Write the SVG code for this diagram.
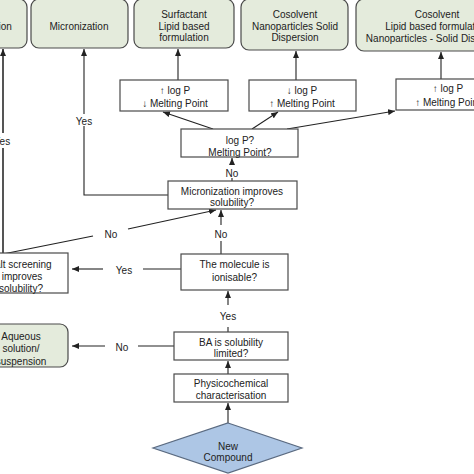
<svg xmlns="http://www.w3.org/2000/svg" width="474" height="474" viewBox="0 0 474 474">
<defs>
<marker id="ah" markerUnits="userSpaceOnUse" markerWidth="8" markerHeight="6" refX="7" refY="3" orient="auto">
<path d="M0,0 L7,3 L0,6 z" fill="#222"/>
</marker>
<style>
text{font-family:"Liberation Sans","DejaVu Sans",Arial,sans-serif;font-size:10px;fill:#222;text-anchor:middle}
.g{fill:#e4ebdc;stroke:#4a4a4a;stroke-width:1.2}
.w{fill:#fff;stroke:#4a4a4a;stroke-width:1.2}
.d{fill:#adc6e5;stroke:#5a6a80;stroke-width:1.2}
.c{fill:none;stroke:#222;stroke-width:1.1}
.a{marker-end:url(#ah)}
</style>
</defs>
<rect width="474" height="474" fill="#fff"/>
<g id="connectors">
<line class="c a" x1="228" y1="423" x2="228" y2="403"/>
<line class="c a" x1="228" y1="374" x2="228" y2="361"/>
<line class="c" x1="228" y1="332" x2="228" y2="327"/>
<line class="c a" x1="228" y1="305" x2="228" y2="291"/>
<line class="c" x1="174" y1="346" x2="138" y2="346"/>
<line class="c a" x1="105" y1="346" x2="72" y2="346"/>
<line class="c" x1="181" y1="269" x2="143" y2="269"/>
<line class="c a" x1="103" y1="269" x2="72" y2="269"/>
<line class="c" x1="221" y1="254" x2="221" y2="241"/>
<line class="c a" x1="221" y1="225" x2="221" y2="210"/>
<line class="c" x1="3" y1="254" x2="93" y2="236"/>
<line class="c a" x1="128" y1="229" x2="216" y2="210"/>
<line class="c" x1="3" y1="253" x2="3" y2="148" style="stroke:#555;stroke-width:2"/>
<line class="c a" x1="3" y1="133" x2="3" y2="49" style="stroke:#555;stroke-width:2"/>
<polyline class="c" points="168,195 84,195 84,126"/>
<line class="c a" x1="84" y1="114" x2="84" y2="49"/>
<line class="c" x1="232" y1="181" x2="232" y2="178"/>
<line class="c a" x1="232" y1="165" x2="232" y2="158"/>
<line class="c a" x1="213" y1="129" x2="163" y2="112"/>
<line class="c a" x1="252" y1="129" x2="278" y2="112"/>
<line class="c a" x1="287" y1="129" x2="395" y2="111"/>
<line class="c a" x1="178" y1="80" x2="178" y2="49"/>
<line class="c a" x1="296" y1="80" x2="296" y2="51"/>
<line class="c a" x1="441" y1="79" x2="441" y2="52"/>
<text x="228" y="319.5">Yes</text>
<text x="122" y="350.5">No</text>
<text x="124" y="273.5">Yes</text>
<text x="221" y="237.5">No</text>
<text x="111" y="237.5">No</text>
<text x="2" y="144.5">Yes</text>
<text x="84" y="124.5">Yes</text>
<text x="232" y="176.5">No</text>
</g>
<g id="salt-formation">
<rect class="g" x="-70" y="-1" width="97" height="49" rx="8"/>
<text x="-19" y="29.5">Salt formation</text>
</g>
<g id="micronization">
<rect class="g" x="31" y="-1" width="97" height="49" rx="8"/>
<text x="79" y="29.5">Micronization</text>
</g>
<g id="surfactant">
<rect class="g" x="134" y="-1" width="100" height="49" rx="8"/>
<text x="184" y="17.5">Surfactant</text>
<text x="184" y="29.5">Lipid based</text>
<text x="184" y="41">formulation</text>
</g>
<g id="cosolvent">
<rect class="g" x="241" y="-1" width="107" height="51" rx="8"/>
<text x="295" y="17.5">Cosolvent</text>
<text x="295" y="29.5">Nanoparticles Solid</text>
<text x="295" y="41">Dispersion</text>
</g>
<g id="cosolvent-lipid">
<rect class="g" x="356" y="-1" width="170" height="52" rx="8"/>
<text x="437" y="17.5">Cosolvent</text>
<text x="437" y="29.5">Lipid based formulation</text>
<text x="437" y="41.5">Nanoparticles - Solid Dispersion</text>
</g>
<g id="up-logp-down-mp">
<rect class="w" x="120" y="80" width="108" height="31"/>
<text x="175" y="93.5">↑ log P</text>
<text x="175" y="106.5">↓ Melting Point</text>
</g>
<g id="down-logp-up-mp">
<rect class="w" x="249" y="80" width="107" height="31"/>
<text x="302" y="93.5">↓ log P</text>
<text x="302" y="106.5">↑ Melting Point</text>
</g>
<g id="up-logp-up-mp">
<rect class="w" x="396" y="79" width="110" height="31"/>
<text x="448" y="91.5">↑ log P</text>
<text x="448" y="105.5">↑ Melting Point</text>
</g>
<g id="logp-question">
<rect class="w" x="181" y="129" width="117" height="28"/>
<text x="240" y="143.5">log P?</text>
<text x="240" y="155.5">Melting Point?</text>
</g>
<g id="micronization-question">
<rect class="w" x="168" y="181" width="129" height="28"/>
<text x="232" y="194.5">Micronization improves</text>
<text x="232" y="205.5">solubility?</text>
</g>
<g id="salt-screening">
<rect class="w" x="-40" y="253" width="108" height="40"/>
<text x="20" y="267.5">Salt screening</text>
<text x="22" y="279.5">improves</text>
<text x="21" y="291.5">solubility?</text>
</g>
<g id="ionisable">
<rect class="w" x="181" y="254" width="107" height="36"/>
<text x="234.5" y="267.5">The molecule is</text>
<text x="234.5" y="280.5">ionisable?</text>
</g>
<g id="aqueous">
<rect class="g" x="-40" y="324" width="108" height="43" rx="8"/>
<text x="21" y="339.5">Aqueous</text>
<text x="21" y="351.5">solution/</text>
<text x="21" y="364.5">suspension</text>
</g>
<g id="ba-limited">
<rect class="w" x="174" y="332" width="114" height="28"/>
<text x="231" y="345.5">BA is solubility</text>
<text x="231" y="356.5">limited?</text>
</g>
<g id="physicochemical">
<rect class="w" x="174" y="374" width="114" height="28"/>
<text x="231" y="386.5">Physicochemical</text>
<text x="231" y="398.5">characterisation</text>
</g>
<g id="new-compound">
<polygon class="d" points="228,423 302,448 228,473 153,448"/>
<text x="228" y="449.5">New</text>
<text x="228" y="460.5">Compound</text>
</g>
</svg>
